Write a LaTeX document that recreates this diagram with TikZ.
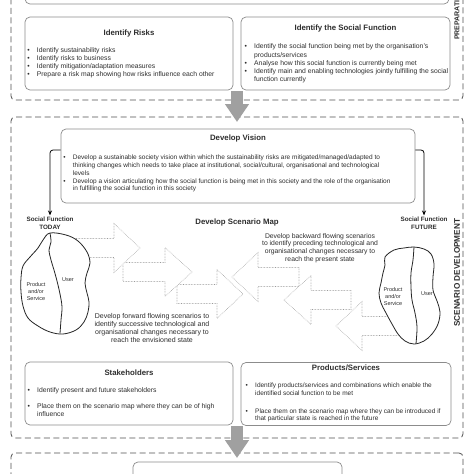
\documentclass[tikz,border=0pt]{standalone}
\usepackage{fontspec}
\setmainfont{Liberation Sans}
\usetikzlibrary{arrows.meta,positioning}
\definecolor{InkGray}{HTML}{2E2E2E}
\definecolor{FrameGray}{HTML}{8C8C8C}
\definecolor{PhaseGray}{HTML}{505050}
\definecolor{FlowGray}{HTML}{A0A0A0}
\definecolor{DotGray}{HTML}{9A9A9A}

\newlength\bulind
\setlength\bulind{9.5pt}
\newcommand\bul{\textbullet}

\tikzset{
  phasebox/.style={draw=PhaseGray, line width=0.8pt, dash pattern=on 6pt off 3.5pt, rounded corners=4pt},
  taskbox/.style={draw=FrameGray, line width=0.7pt, rounded corners=5pt, fill=white, inner sep=0pt},
  tasktitle/.style={font=\fontsize{7.8}{9}\selectfont\bfseries, text=InkGray, inner sep=0pt},
  bullets/.style={text=InkGray, inner sep=0pt, anchor=north west},
  note/.style={text=InkGray, align=center, inner sep=0pt},
  sflabel/.style={font=\fontsize{6.3}{8}\selectfont\bfseries, text=InkGray, align=center, inner sep=1pt},
  blobtext/.style={font=\fontsize{5.5}{7}\selectfont, text=InkGray, align=center, inner sep=0pt},
  phaselbl/.style={font=\fontsize{7}{8}\selectfont\bfseries, text=InkGray, rotate=90, inner sep=0pt, anchor=west},
  scenarrow/.style={draw=DotGray, densely dotted, line width=0.55pt, fill=white},
  blob/.style={draw=black!85, line width=0.8pt, fill=white},
  blobline/.style={draw=black!85, line width=0.8pt},
  flow/.style={FlowGray, line width=12pt, -{Triangle[width=23pt,length=18pt]}},
  feed/.style={draw=black, line width=0.8pt, rounded corners=3pt, -{Stealth[length=5pt,width=4pt]}}
}

\begin{document}
\begin{tikzpicture}[x=1pt,y=-1pt]
  \clip (0,0) rectangle (474,474);
  \fill[white] (0,0) rectangle (474,474);

  % phases
  \node[phasebox, minimum width=452pt, minimum height=140pt] (prep) at (237,30) {};
  \node[phasebox, minimum width=452pt, minimum height=321pt] (scen) at (237,277.5) {};
  \node[phasebox, minimum width=452pt, minimum height=67pt] (next) at (237,486.5) {};
  \node[phaselbl] (preplbl) at (457,40) {PREPARATION};
  \node[phaselbl, font=\fontsize{8.2}{9}\selectfont\bfseries] (scenlbl) at (457,327) {SCENARIO DEVELOPMENT};

  % preparation
  \node[taskbox, minimum width=424pt, minimum height=34pt] (topbox) at (237,-13) {};
  \node[taskbox, minimum width=208pt, minimum height=73pt] (risks) at (129,53.5) {};
  \node[tasktitle] (riskstitle) at (129,33) {Identify Risks};
  \node[bullets, font=\fontsize{6.8}{8}\selectfont] (risksitems) at (27.2,46.2) {%
    \begin{tabular}{@{}p{\bulind}@{}l@{}}
      \bul & Identify sustainability risks\\
      \bul & Identify risks to business\\
      \bul & Identify mitigation/adaptation measures\\
      \bul & Prepare a risk map showing how risks influence each other
    \end{tabular}};

  \node[taskbox, minimum width=209pt, minimum height=73pt] (social) at (345.5,53.5) {};
  \node[tasktitle] (socialtitle) at (345.5,28) {Identify the Social Function};
  \node[bullets, font=\fontsize{6.8}{8.2}\selectfont] (socialitems) at (244.5,43) {%
    \begin{tabular}{@{}p{\bulind}@{}l@{}}
      \bul & Identify the social function being met by the organisation's\\
           & products/services\\
      \bul & Analyse how this social function is currently being met\\
      \bul & Identify main and enabling technologies jointly fulfilling the social\\
           & function currently
    \end{tabular}};

  % vision
  \node[taskbox, minimum width=354pt, minimum height=74pt] (vision) at (238,166) {};
  \node[tasktitle] (visiontitle) at (238,138) {Develop Vision};
  \node[bullets, font=\fontsize{6.5}{7.8}\selectfont] (visionitems) at (63.2,154.1) {%
    \begin{tabular}{@{}p{\bulind}@{}l@{}}
      \bul & Develop a sustainable society vision within which the sustainability risks are mitigated/managed/adapted to\\
           & thinking changes which needs to take place at institutional, social/cultural, organisational and technological\\
           & levels\\
      \bul & Develop a vision articulating how the social function is being met in this society and the role of the organisation\\
           & in fulfilling the social function in this society
    \end{tabular}};

  % scenario map
  \foreach \tl/\hb/\tp/\cy in {177/217/243/294, 123/165/192/272, 70/114/140/248, 299/258/232/277, 351/311/284/300, 403/362/336/326}
    \draw[scenarrow] (\tl,\cy-9.5) -- (\hb,\cy-9.5) -- (\hb,\cy-24.5) -- (\tp,\cy)
      -- (\hb,\cy+24.5) -- (\hb,\cy+9.5) -- (\tl,\cy+9.5) -- cycle;

  \draw[blob] plot[smooth cycle, tension=0.6] coordinates {(50,233) (66,235) (78,241) (87,252) (90,263) (87,273) (85,283) (87,293) (89,302) (88,312) (84,322) (76,330) (63,334) (50,332) (38,326) (28,318) (23,306) (21,292) (21,278) (23,266) (30,257) (38,248) (43,240)};
  \draw[blobline] plot[smooth, tension=0.6] coordinates {(50,233) (51,242) (49,250) (51,260) (54,270) (57,281) (60,294) (62,307) (61,320) (60,333.5)};
  \draw[blob] plot[smooth cycle, tension=0.6] coordinates {(385,257) (394,250) (404,248) (414,247) (424,249) (431,254) (434,264) (433,277) (433,290) (437,301) (440,312) (438,324) (432,334) (424,341) (414,344) (405,341) (398,334) (392,324) (386,313) (381,303) (379,293) (381,283) (383,273) (385,265)};
  \draw[blobline] plot[smooth, tension=0.6] coordinates {(414,247) (413,260) (411,273) (411,287) (412,300) (415,313) (417,327) (416,343.5)};

  \node[blobtext] (todayuser) at (68,280) {User};
  \node[blobtext] (todayprod) at (36,292) {Product\\and/or\\Service};
  \node[blobtext] (futureuser) at (427,294) {User};
  \node[blobtext] (futureprod) at (393,297) {Product\\and/or\\Service};

  \node[sflabel] (todaylbl) at (50,223) {Social Function\\TODAY};
  \node[sflabel] (futurelbl) at (424,223) {Social Function\\FUTURE};
  \node[tasktitle] (maptitle) at (237,222) {Develop Scenario Map};
  \node[note, font=\fontsize{6.8}{7.6}\selectfont] (backnote) at (320,248) {Develop backward flowing scenarios\\to identify preceding technological and\\organisational changes necessary to\\reach the present state};
  \node[note, font=\fontsize{7}{8}\selectfont] (fwdnote) at (152,327.5) {Develop forward flowing scenarios to\\identify successive technological and\\organisational changes necessary to\\reach the envisioned state};

  \draw[feed] ([yshift=16pt]vision.west) -| (todaylbl.north);
  \draw[feed] ([yshift=16pt]vision.east) -| (futurelbl.north);

  % stakeholders and products
  \node[taskbox, minimum width=208pt, minimum height=63pt] (stake) at (129,393.5) {};
  \node[tasktitle] (staketitle) at (129,373) {Stakeholders};
  \node[bullets, font=\fontsize{6.8}{8}\selectfont] (stakeitems) at (27.5,386.2) {%
    \begin{tabular}{@{}p{\bulind}@{}l@{}}
      \bul & Identify present and future stakeholders\\[8pt]
      \bul & Place them on the scenario map where they can be of high\\
           & influence
    \end{tabular}};

  \node[taskbox, minimum width=210pt, minimum height=63pt] (prod) at (346,394) {};
  \node[tasktitle] (prodtitle) at (346,368) {Products/Services};
  \node[bullets, font=\fontsize{6.5}{7.3}\selectfont] (proditems) at (245.5,382.6) {%
    \begin{tabular}{@{}p{\bulind}@{}l@{}}
      \bul & Identify products/services and combinations which enable the\\
           & identified social function to be met\\[10.7pt]
      \bul & Place them on the scenario map where they can be introduced if\\
           & that particular state is reached in the future
    \end{tabular}};

  % next phase
  \node[taskbox, minimum width=209pt, minimum height=38pt] (nextbox) at (237.5,481) {};

  % flow between phases
  \coordinate (flowAtop) at (237,91);
  \coordinate (flowAtip) at (237,122);
  \coordinate (flowBtop) at (237,426);
  \coordinate (flowBtip) at (237,458);
  \draw[flow] (flowAtop) -- (flowAtip);
  \draw[flow] (flowBtop) -- (flowBtip);
\end{tikzpicture}
\end{document}
